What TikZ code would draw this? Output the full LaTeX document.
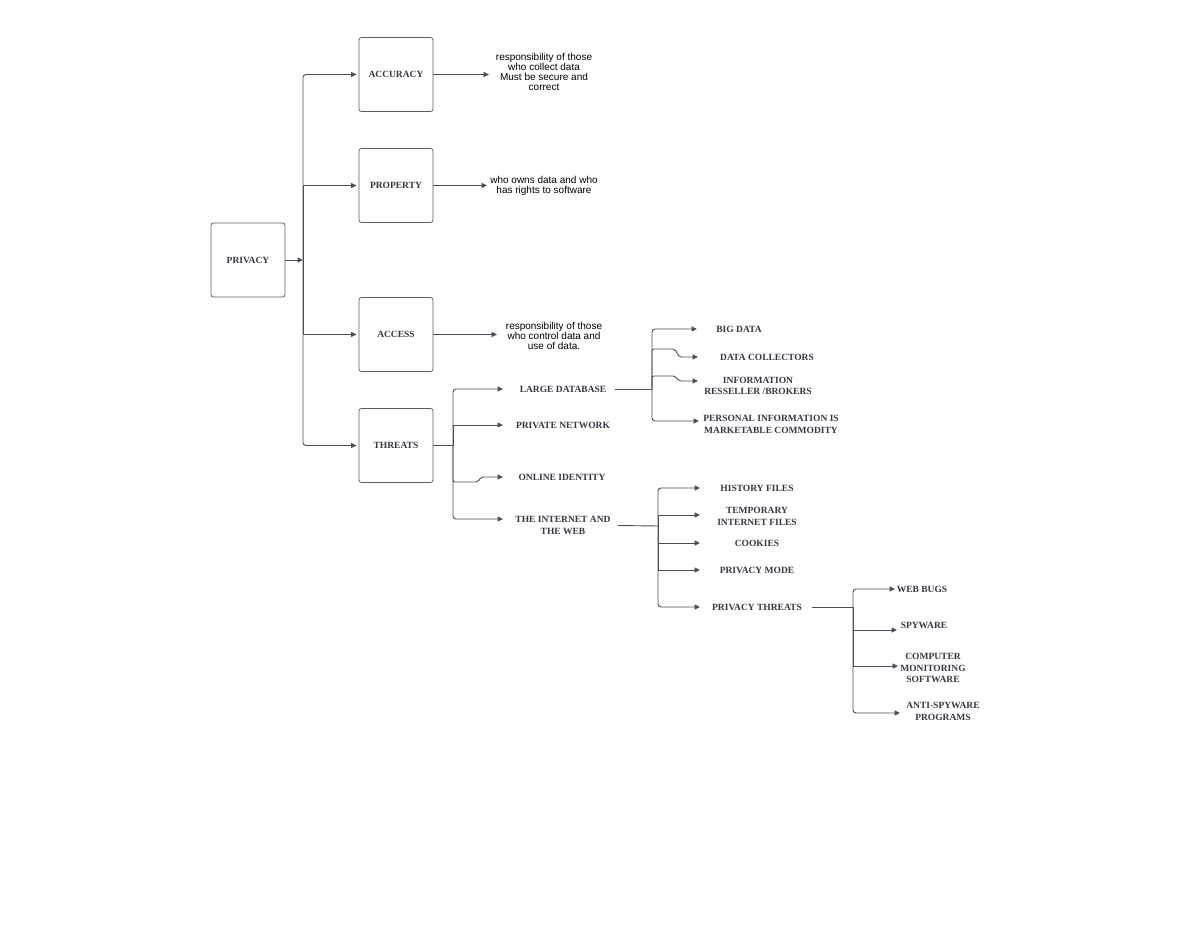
\documentclass[tikz,border=0pt]{standalone}
\usepackage{fontspec}
\setmainfont{Liberation Serif}
\newfontfamily\descfont{Liberation Sans}
\usetikzlibrary{arrows.meta}
\definecolor{linec}{HTML}{4A4E59}
\definecolor{boxc}{HTML}{5A5E68}
\definecolor{labc}{HTML}{343841}
\tikzset{
  box/.style={draw=boxc, line width=0.8pt, rounded corners=2.5pt, minimum width=74pt, minimum height=74pt,
    font=\fontsize{9.5}{12}\selectfont\bfseries, text=labc, inner sep=0pt},
  lbl/.style={font=\fontsize{9.5}{11.8}\selectfont\bfseries, text=labc, align=center, inner sep=3pt},
  desc/.style={font=\descfont\fontsize{10}{10}\selectfont, text=black, align=center, inner sep=1pt},
  conn/.style={draw=linec, line width=0.9pt},
  arr/.style={conn, -{Triangle[length=5.5pt,width=5pt]}},
  arrr/.style={arr, rounded corners=3pt},
}
\begin{document}
\begin{tikzpicture}[x=1pt,y=-1pt]
\useasboundingbox (0,0) rectangle (1200,928);
% boxes
\node[box] (privacy) at (248,260) {PRIVACY};
\node[box] (accuracy) at (396,74.5) {ACCURACY};
\node[box] (property) at (396,185.5) {PROPERTY};
\node[box] (access) at (396,334.5) {ACCESS};
\node[box] (threats) at (396,445.5) {THREATS};
% trunk
\coordinate (trunk) at (303,260);
\draw[arr] (privacy.east) -- (trunk);
\draw[arrr, shorten >=2pt] (trunk) |- (accuracy.west);
\draw[arr, shorten >=2pt] (trunk) |- (property.west);
\draw[arr, shorten >=2pt] (trunk) |- (access.west);
\draw[arrr, shorten >=2pt] (trunk) |- (threats.west);
% descriptions
\node[desc] (accdesc) at (544,72) {responsibility of those\\who collect data\\Must be secure and\\correct};
\node[desc] (propdesc) at (544,186) {who owns data and who\\has rights to software};
\node[desc] (accsdesc) at (554,336) {responsibility of those\\who control data and\\use of data.};
\coordinate (accdesc-in) at (489,74.5);
\coordinate (propdesc-in) at (487,185.5);
\coordinate (accsdesc-in) at (497,334.5);
\draw[arr] (accuracy.east) -- (accdesc-in);
\draw[arr] (property.east) -- (propdesc-in);
\draw[arr] (access.east) -- (accsdesc-in);
% threats group
\node[lbl] (ld) at (563,389) {LARGE DATABASE};
\node[lbl] (pn) at (563,425) {PRIVATE NETWORK};
\node[lbl] (oi) at (562,477) {ONLINE IDENTITY};
\node[lbl] (tw) at (563,525.5) {THE INTERNET AND\\THE WEB};
\coordinate (tj) at (453,445.5);
\coordinate (ld-in) at (503,389);
\coordinate (pn-in) at (503,425);
\coordinate (oi-in) at (503,477);
\coordinate (tw-in) at (503,519);
\draw[conn] (threats.east) -- (tj);
\draw[arrr] (tj) |- (ld-in);
\draw[arr] (tj) |- (pn-in);
\draw[arr, rounded corners=2pt] (tj) |- ([xshift=-25pt,yshift=-5pt]oi-in) -- ([xshift=-22pt]oi-in) -- (oi-in);
\draw[arrr] (tj) |- (tw-in);
% large database group
\node[lbl] (bd) at (739,329) {BIG DATA};
\node[lbl] (dc) at (767,357) {DATA COLLECTORS};
\node[lbl] (ri) at (758,386) {INFORMATION\\RESSELLER /BROKERS};
\node[lbl] (pi) at (771,424) {PERSONAL INFORMATION IS\\MARKETABLE COMMODITY};
\coordinate (ldj) at (652,389);
\coordinate (bd-in) at (697,329);
\coordinate (dc-in) at (698,357);
\coordinate (ri-in) at (698,381);
\coordinate (pi-in) at (699,421);
\draw[conn] ([xshift=6pt]ld.east) -- (ldj);
\draw[arrr] (ldj) |- (bd-in);
\draw[arr, rounded corners=2pt] (ldj) |- ([xshift=-23pt,yshift=8pt]dc-in) -- ([xshift=-19pt]dc-in) -- (dc-in);
\draw[arr, rounded corners=2pt] (ldj) |- ([xshift=-23pt,yshift=5pt]ri-in) -- ([xshift=-19pt]ri-in) -- (ri-in);
\draw[arrr] (ldj) |- (pi-in);
% internet group
\node[lbl] (hf) at (757,488) {HISTORY FILES};
\node[lbl] (tf) at (757,516) {TEMPORARY\\INTERNET FILES};
\node[lbl] (ck) at (757,543) {COOKIES};
\node[lbl] (pm) at (757,570) {PRIVACY MODE};
\node[lbl] (pt) at (757,607) {PRIVACY THREATS};
\coordinate (twj) at (658,526);
\coordinate (hf-in) at (700,488);
\coordinate (tf-in) at (700,515);
\coordinate (ck-in) at (700,543);
\coordinate (pm-in) at (700,570);
\coordinate (pt-in) at (700,607);
\draw[conn] ([xshift=4pt]tw.east) -- (twj);
\draw[arrr] (twj) |- (hf-in);
\draw[arr] (twj) |- (tf-in);
\draw[arr] (twj) |- (ck-in);
\draw[arr] (twj) |- (pm-in);
\draw[arrr] (twj) |- (pt-in);
% privacy threats group
\node[lbl] (wb) at (922,589) {WEB BUGS};
\node[lbl] (sp) at (924,625) {SPYWARE};
\node[lbl] (cm) at (933,668) {COMPUTER\\MONITORING\\SOFTWARE};
\node[lbl] (as) at (943,711) {ANTI-SPYWARE\\PROGRAMS};
\coordinate (ptj) at (853,607);
\coordinate (wb-in) at (895,589);
\coordinate (sp-in) at (897,630);
\coordinate (cm-in) at (898,666);
\coordinate (as-in) at (900,713);
\draw[conn] ([xshift=7pt]pt.east) -- (ptj);
\draw[arrr] (ptj) |- (wb-in);
\draw[arr] (ptj) |- (sp-in);
\draw[arr] (ptj) |- (cm-in);
\draw[arrr] (ptj) |- (as-in);
\end{tikzpicture}
\end{document}
